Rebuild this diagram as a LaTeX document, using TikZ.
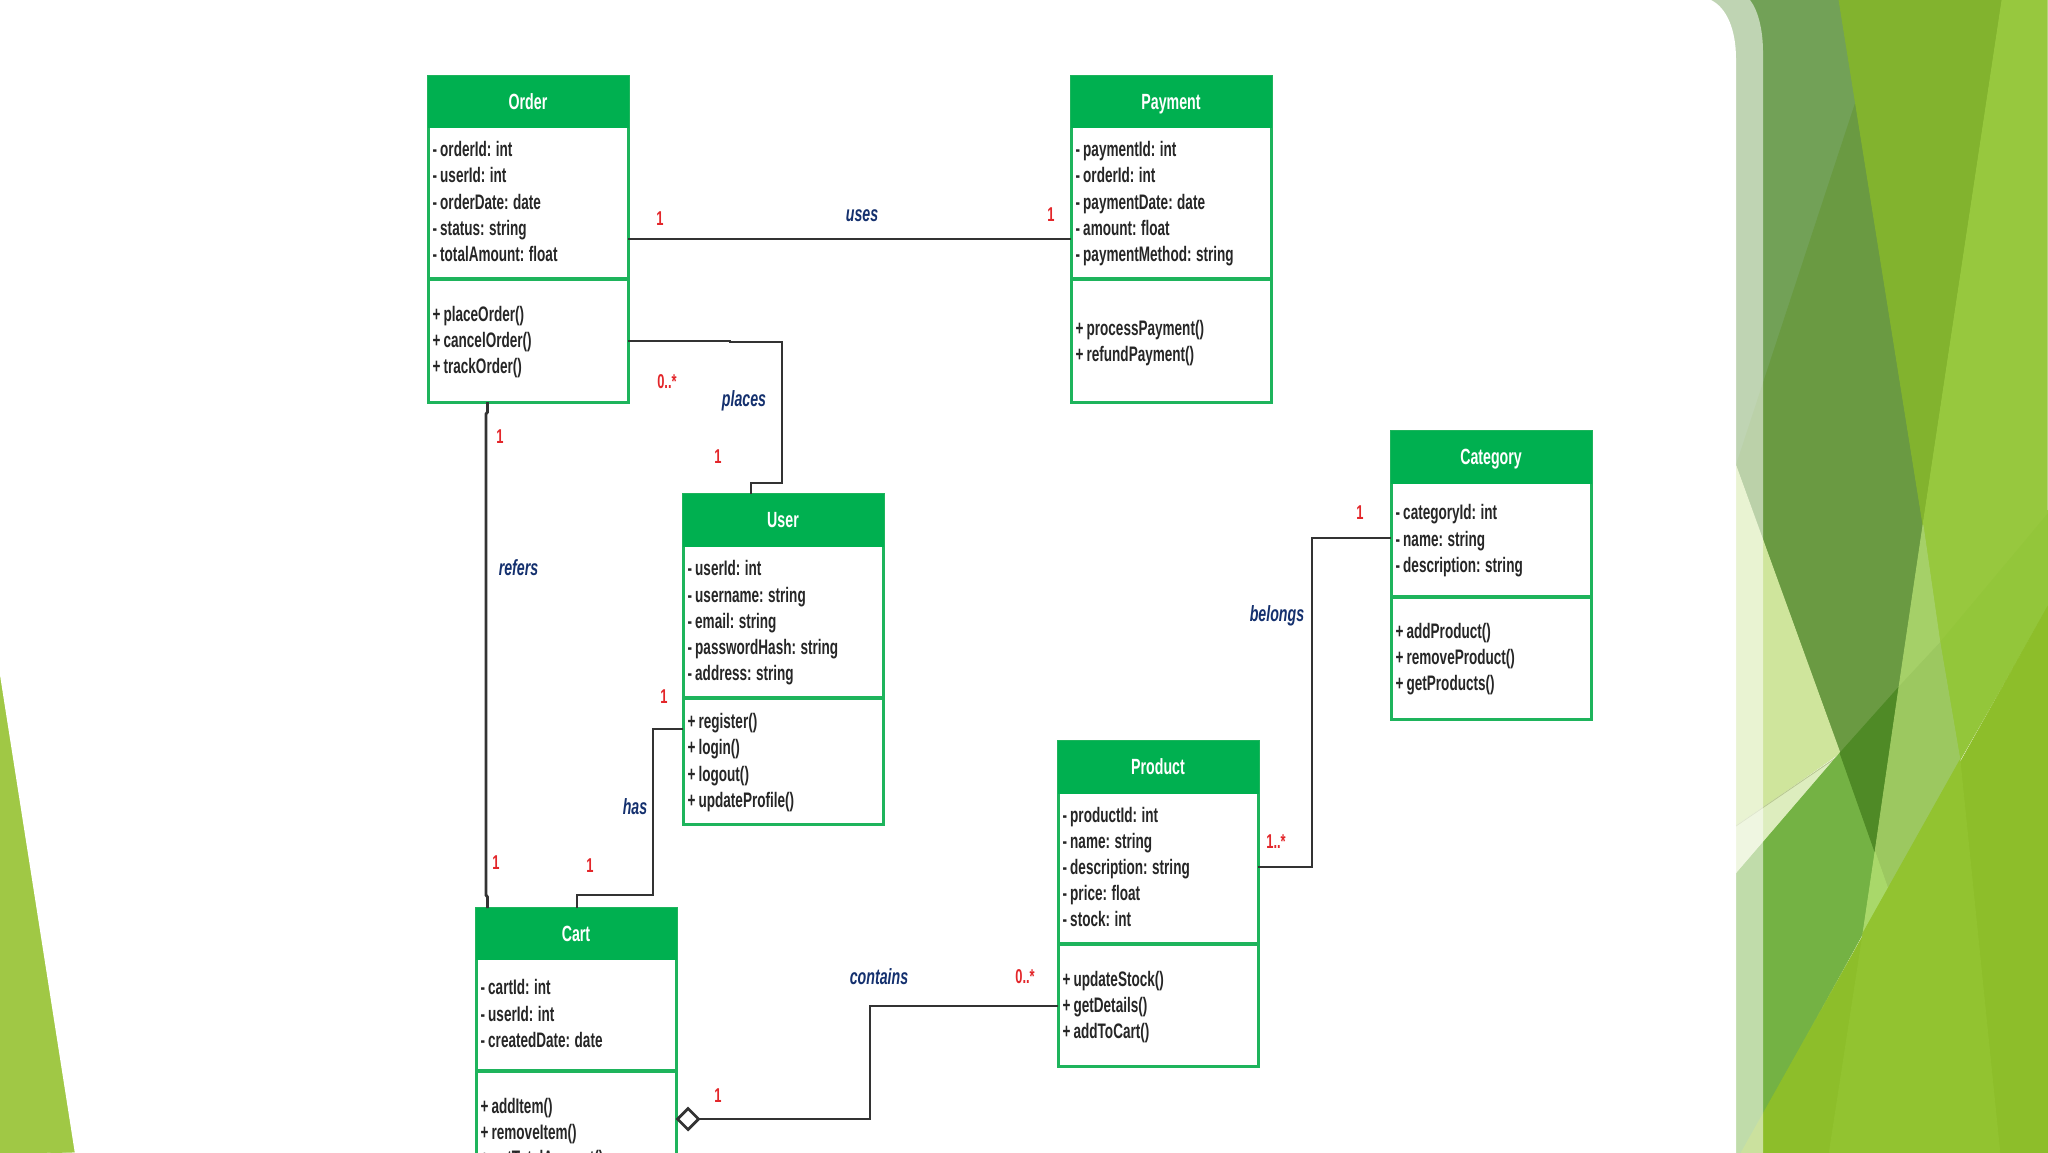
\documentclass[tikz,border=0pt]{standalone}
\usepackage{fontspec}
\setmainfont[FakeStretch=0.645,WordSpace=0.85]{Liberation Sans}
\usetikzlibrary{calc,shapes.geometric}
\definecolor{umlgreen}{HTML}{00B050}
\definecolor{umledge}{HTML}{1EB45C}
\definecolor{relnavy}{HTML}{14306E}
\definecolor{multred}{HTML}{E3262A}
\definecolor{conn}{HTML}{333333}
\tikzset{
  classbox/.style={draw=umledge,line width=3pt,fill=white,rectangle,inner sep=0pt,outer sep=0pt,anchor=north west},
  classhead/.style={fill=umlgreen,draw=umlgreen,line width=1pt,rectangle,inner sep=0pt,outer sep=0pt,anchor=north west,text=white,text height=15pt,text depth=0pt,font=\fontsize{22}{24}\selectfont\bfseries},
  members/.style={anchor=west,align=left,inner sep=0pt,outer sep=0pt,text=black!85,font=\fontsize{21}{26.2}\selectfont\bfseries},
  divider/.style={draw=umledge,line width=3.2pt},
  conline/.style={draw=conn,line width=2.9pt,line join=miter},
  rel/.style={text=relnavy,inner sep=0pt,font=\fontsize{22}{24}\selectfont\bfseries\itshape},
  mult/.style={text=multred,inner sep=0pt,font=\fontsize{20}{22}\selectfont\bfseries},
  aggr/.style={draw=conn,fill=white,line width=2.8pt,diamond,aspect=1,inner sep=0pt,outer sep=0pt,minimum width=21pt,minimum height=21pt}
}
\newcommand{\facet}[2]{\definecolor{facetc}{HTML}{#1}\filldraw[fill=facetc,draw=facetc,line width=0.8pt,line join=round] #2;}
\newcommand{\umlclass}[9]{%
  \node[classbox,minimum width=200pt,minimum height={(#5-#2-1)*1pt}] (#1) at (#3,#2) {};
  \node[classhead,minimum width=200pt,minimum height={(#4-#2)*1pt}] (#1head) at (#3,#2) {#6};
  \draw[divider] (#1.west |- 0,#7) -- (#1.east |- 0,#7);
  \umlmembers{#1}{#8}{#9}}
\newcommand{\umlmembers}[3]{%
  \node[members] (#1attrs) at ([xshift=4.5pt,yshift=-1.5pt]#1.west |- 0,\attry) {\rule{0pt}{16pt}#2\rule[-6pt]{0pt}{6pt}};
  \node[members] (#1meths) at ([xshift=4.5pt,yshift=-1.5pt]#1.west |- 0,\methy) {\rule{0pt}{16pt}#3\rule[-6pt]{0pt}{6pt}};}
\begin{document}
\begin{tikzpicture}[x=1pt,y=-1pt]
\useasboundingbox (0,0) rectangle (2048,1152);
\clip (0,0) rectangle (2048,1152);
\fill[white] (0,0) rectangle (2048,1152);
% left triangle
\facet{A0C845}{(0,675) -- (75,1152) -- (-2,1154) -- cycle}
% background facets on the right
\facet{72A157}{(1700,0) -- (1839,0) -- (1855.5,103) -- (1736,466) -- (1700,466) -- cycle}
\facet{6A9A42}{(1736,466) -- (1855.5,103) -- (1923,525) -- (1899,687) -- (1840,753) -- cycle}
\facet{82B32E}{(1839,0) -- (2002,0) -- (1923,525) -- cycle}
\facet{97C83E}{(2002,0) -- (2048,0) -- (2048,514) -- (1940,643) -- (1923,525) -- cycle}
\facet{93C63A}{(2048,514) -- (1940,643) -- (1960,760) -- (2048,606) -- cycle}
\facet{CFE59C}{(1736,466) -- (1840,753) -- (1736,826) -- cycle}
\facet{DDEDBE}{(1736,826) -- (1840,755) -- (1736,874) -- cycle}
\draw[draw={rgb,255:red,184;green,200;blue,144},line width=0.8pt] (1736,826) -- (1840,755);
\facet{74B244}{(1736,874) -- (1840,753) -- (1875,852) -- (1863,933) -- (1770,1102) -- (1736,1162) -- cycle}
\facet{4F8A26}{(1840,753) -- (1899,687) -- (1875,852) -- cycle}
\facet{A5D068}{(1923,525) -- (1940,643) -- (1899,687) -- cycle}
\facet{9CC860}{(1899,687) -- (1940,643) -- (1960,760) -- (1888,889) -- (1875,852) -- cycle}
\facet{A9D86A}{(1875,852) -- (1888,889) -- (1863,933) -- cycle}
\facet{8DBE2A}{(2048,606) -- (1736,1162) -- (2048,1162) -- cycle}
\facet{92C330}{(1863,933) -- (1829,1154) -- (2000,1154) -- (1960,760) -- cycle}
\draw[draw={rgb,255:red,181;green,212;blue,122},line width=1pt] (2047.5,0) -- (2047.5,510);
% translucent band and white panel
\fill[white,opacity=0.55] (1700,0) -- (1750,0) .. controls (1758,10) and (1763,30) .. (1763,52) -- (1763,1154) -- (1700,1154) -- cycle;
\fill[white] (0,0) -- (1711,0) .. controls (1727,8) and (1736,30) .. (1736,59) -- (1736,1154) -- (75,1154) -- (0,675) -- cycle;
% classes
\def\attry{202.5}\def\methy{341}
\umlclass{order}{76}{428}{127}{403}{Order}{279}{- orderId: int\\- userId: int\\- orderDate: date\\- status: string\\- totalAmount: float}{+ placeOrder()\\+ cancelOrder()\\+ trackOrder()}
\def\attry{202.5}\def\methy{342}
\umlclass{payment}{76}{1071}{127}{403}{Payment}{279}{- paymentId: int\\- orderId: int\\- paymentDate: date\\- amount: float\\- paymentMethod: string}{+ processPayment()\\+ refundPayment()}
\def\attry{539.5}\def\methy{658}
\umlclass{category}{431}{1391}{483}{720}{Category}{597}{- categoryId: int\\- name: string\\- description: string}{+ addProduct()\\+ removeProduct()\\+ getProducts()}
\def\attry{621.7}\def\methy{761.5}
\umlclass{user}{494}{683}{546}{825}{User}{698}{- userId: int\\- username: string\\- email: string\\- passwordHash: string\\- address: string}{+ register()\\+ login()\\+ logout()\\+ updateProfile()}
\def\attry{868}\def\methy{1006}
\umlclass{product}{741}{1058}{793}{1067}{Product}{944}{- productId: int\\- name: string\\- description: string\\- price: float\\- stock: int}{+ updateStock()\\+ getDetails()\\+ addToCart()}
\def\attry{1014.6}\def\methy{1133}
\umlclass{cart}{908}{476}{959}{1240}{Cart}{1071}{- cartId: int\\- userId: int\\- createdDate: date}{+ addItem()\\+ removeItem()\\+ getTotalAmount()}
% connectors
\draw[conline] (order.east |- 0,239) -- (payment.west |- 0,239);
\draw[conline] (order.east |- 0,341) -- (730,341) -- (730,342) -- (782,342) -- (782,483) -- (751,483) -- (user.north -| 751,0);
\draw[conline] (order.south -| 487.5,0) -- (487.5,412) -- (486,414) -- (486,895) -- (487.5,897) -- (cart.north -| 487.5,0);
\draw[conline] (user.west |- 0,729) -- (653,729) -- (653,895) -- (577,895) -- (cart.north -| 577,0);
\node[aggr] (aggrd) at (688,1119) {};
\draw[conline] (aggrd.east) -- (870,1119) -- (870,1006) -- (product.west |- 0,1006);
\draw[conline] (product.east |- 0,867) -- (1312,867) -- (1312,538) -- (category.west |- 0,538);
% labels
\node[rel] (luses) at (862,216) {uses};
\node[rel] (lplaces) at (744,401) {places};
\node[rel] (lrefers) at (518.5,568) {refers};
\node[rel] (lhas) at (635,807) {has};
\node[rel] (lcontains) at (879,977) {contains};
\node[rel] (lbelongs) at (1277,616) {belongs};
\node[mult] (m1) at (660,219) {1};
\node[mult] (m2) at (1051,215) {1};
\node[mult] (m3) at (667,382) {0..*};
\node[mult] (m4) at (500,437) {1};
\node[mult] (m5) at (718,457) {1};
\node[mult] (m6) at (664,697) {1};
\node[mult] (m7) at (496,863) {1};
\node[mult] (m8) at (590,866) {1};
\node[mult] (m9) at (1025,977) {0..*};
\node[mult] (m10) at (718,1096) {1};
\node[mult] (m11) at (1276,842) {1..*};
\node[mult] (m12) at (1360,513) {1};
\end{tikzpicture}
\end{document}
